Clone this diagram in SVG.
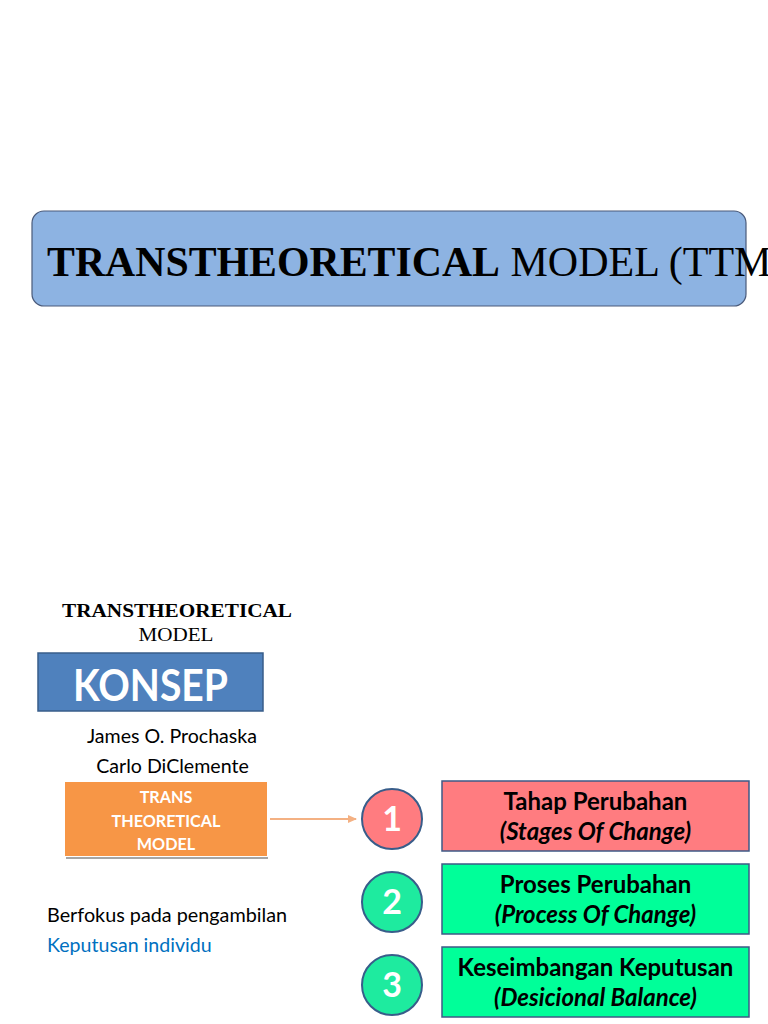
<svg xmlns="http://www.w3.org/2000/svg" width="768" height="1024" viewBox="0 0 768 1024">
<defs>
<style>
.serif{font-family:"Liberation Serif","Times New Roman",serif;fill:#000}
.sans{font-family:Lato,"Open Sans","Liberation Sans",sans-serif}
.box{stroke:#3E5A87;stroke-width:1.5}
.circ{stroke:#385D8A;stroke-width:2}
.num{font-family:Lato,"Open Sans","Liberation Sans",sans-serif;font-weight:bold;font-size:34px;fill:#fff;text-anchor:middle}
.lbl{font-family:Lato,"Open Sans","Liberation Sans",sans-serif;font-weight:bold;font-size:24px;fill:#000;text-anchor:middle}
.lbli{font-style:italic}
</style>
<marker id="arr" markerWidth="10" markerHeight="10" refX="8" refY="5" orient="auto" markerUnits="userSpaceOnUse">
<path d="M0,1 L9,5 L0,9 Z" fill="#F4B183"/>
</marker>
</defs>
<rect width="768" height="1024" fill="#fff"/>

<g id="title">
<rect x="32" y="211" width="714" height="95" rx="12" fill="#8DB3E2" stroke="#4A5A7A" stroke-width="1.2"/>
<text class="serif" x="47" y="276" font-size="42"><tspan font-weight="bold" textLength="453" lengthAdjust="spacingAndGlyphs">TRANSTHEORETICAL</tspan><tspan> MODEL (TTM</tspan></text>
</g>

<g id="heading">
<text class="serif" x="177" y="617" font-size="18" font-weight="bold" text-anchor="middle" textLength="230" lengthAdjust="spacingAndGlyphs">TRANSTHEORETICAL</text>
<text class="serif" x="176" y="641" font-size="18" text-anchor="middle" textLength="75" lengthAdjust="spacingAndGlyphs">MODEL</text>
</g>

<g id="konsep">
<rect x="38" y="653" width="225" height="58" fill="#4F81BD" stroke="#385D8A" stroke-width="1.5"/>
<text class="sans" x="150.5" y="701" font-size="44" font-weight="bold" fill="#fff" text-anchor="middle" textLength="155" lengthAdjust="spacingAndGlyphs">KONSEP</text>
</g>

<g id="authors">
<text class="sans" x="172" y="743" font-size="19.6" fill="#000" text-anchor="middle">James O. Prochaska</text>
<text class="sans" x="172.5" y="773" font-size="19.6" fill="#000" text-anchor="middle">Carlo DiClemente</text>
</g>

<g id="ttm">
<line x1="66" y1="858" x2="268" y2="858" stroke="#A6A6A6" stroke-width="2"/>
<rect x="65" y="782" width="202" height="74" fill="#F79646"/>
<text class="sans" x="166" y="803" font-size="16.2" font-weight="bold" fill="#fff" text-anchor="middle">TRANS</text>
<text class="sans" x="166" y="827" font-size="16.2" font-weight="bold" fill="#fff" text-anchor="middle">THEORETICAL</text>
<text class="sans" x="166" y="850" font-size="16.2" font-weight="bold" fill="#fff" text-anchor="middle">MODEL</text>
</g>

<g id="focus">
<text class="sans" x="47" y="922" font-size="19.8" fill="#000">Berfokus pada pengambilan</text>
<text class="sans" x="47" y="952" font-size="19.6" fill="#0070C0">Keputusan individu</text>
</g>

<g id="connectors">
<line x1="270" y1="819" x2="356" y2="819" stroke="#F4B183" stroke-width="2" marker-end="url(#arr)"/>
</g>

<g id="n1">
<circle class="circ" cx="392" cy="819" r="30" fill="#FF7C80"/>
<text class="num" x="392" y="831">1</text>
</g>
<g id="n2">
<circle class="circ" cx="392" cy="902" r="30" fill="#1EEB9F"/>
<text class="num" x="392" y="914">2</text>
</g>
<g id="n3">
<circle class="circ" cx="392" cy="985" r="30" fill="#1EEB9F"/>
<text class="num" x="392" y="997">3</text>
</g>

<g id="s1">
<rect class="box" x="442" y="781" width="307" height="70" fill="#FF7C80"/>
<text class="lbl" x="595.5" y="810">Tahap Perubahan</text>
<text class="lbl lbli" x="595.5" y="840">(Stages Of Change)</text>
</g>
<g id="s2">
<rect class="box" x="442" y="864" width="307" height="70" fill="#00FF99"/>
<text class="lbl" x="595.5" y="893">Proses Perubahan</text>
<text class="lbl lbli" x="595.5" y="923">(Process Of Change)</text>
</g>
<g id="s3">
<rect class="box" x="442" y="947" width="307" height="70" fill="#00FF99"/>
<text class="lbl" x="595.5" y="976">Keseimbangan Keputusan</text>
<text class="lbl lbli" x="595.5" y="1006">(Desicional Balance)</text>
</g>
</svg>
